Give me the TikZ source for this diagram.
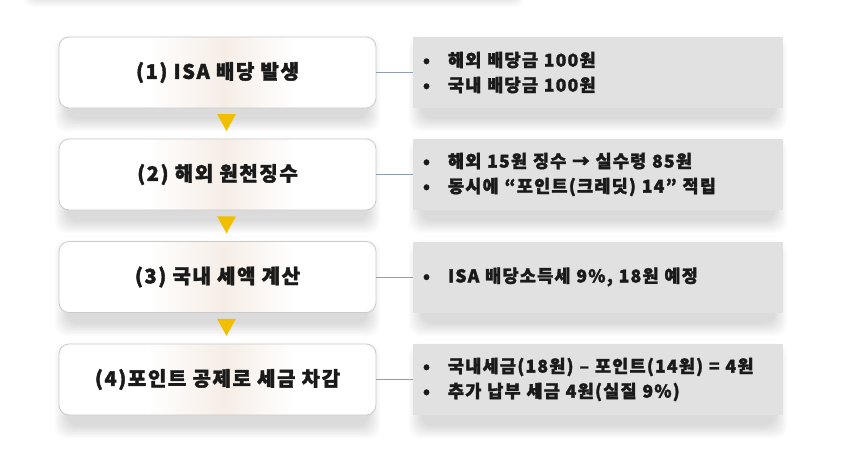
\documentclass[tikz,border=0pt]{standalone}
\usepackage{fontspec}
\setmainfont{Noto Sans CJK KR}[BoldFeatures={FakeBold=1.8}]
\usetikzlibrary{calc}
\pgfdeclarelayer{bgfill}
\pgfdeclarelayer{shadowlayer}
\pgfsetlayers{bgfill,shadowlayer,main}
\definecolor{ink}{HTML}{1A1A1A}
\definecolor{gbox}{HTML}{E1E1E1}
\definecolor{bord}{HTML}{CACACA}
\definecolor{conn}{HTML}{8E9CB4}
\definecolor{tri}{HTML}{F2BF00}
\definecolor{glow}{HTML}{F6EDE6}
\pgfdeclarehorizontalshading{glowshade}{100bp}{color(0bp)=(white); color(39bp)=(white); color(51bp)=(glow); color(62bp)=(white); color(100bp)=(white)}
\tikzset{
  stepbox/.style={draw=bord, line width=0.8pt, rounded corners=10pt,
    minimum width=317pt, minimum height=71pt, shading=glowshade,
    font=\fontsize{20}{23}\addfontfeatures{LetterSpace=8}\bfseries, text=ink},
  infobox/.style={fill=gbox, minimum width=370pt, minimum height=71pt,
    text width=350pt, inner xsep=10pt, align=left,
    font=\fontsize{17.5}{25}\addfontfeatures{LetterSpace=7}\bfseries, text=ink},
  conline/.style={draw=conn, line width=0.8pt},
  tritip/.style={fill=tri},
  shadelayer/.style={fill=black, opacity=0.017, rounded corners=12pt}
}
\newcommand{\bul}{\makebox[25pt][l]{•}}
\newcommand{\softshadow}[1]{%
  \foreach \i in {0,3,...,24}{%
    \fill[shadelayer] ($(#1.north west)+(8-\i/2,11-\i/2)$) rectangle ($(#1.south east)+(\i/2-8,11+\i/2)$);}}
\begin{document}
\begin{tikzpicture}[x=1pt,y=-1pt]
\begin{pgfonlayer}{bgfill}
\fill[white] (0,0) rectangle (853,472);
\end{pgfonlayer}
\useasboundingbox (0,0) rectangle (853,472);
% left steps
\node[stepbox] (L1) at (217.5,72.5) {(1) ISA 배당 발생};
\node[stepbox] (L2) at (217.5,174.5) {(2) 해외 원천징수};
\node[stepbox] (L3) at (217.5,277) {(3) 국내 세액 계산};
\node[stepbox] (L4) at (217.5,379.5) {(4)포인트 공제로 세금 차감};
% right info boxes
\node[infobox] (R1) at (598,72.5) {\bul 해외 배당금 100원\\\bul 국내 배당금 100원};
\node[infobox] (R2) at (598,174.5) {\bul 해외 15원 징수 → 실수령 85원\\\bul 동시에 “포인트(크레딧) 14” 적립};
\node[infobox] (R3) at (598,277) {\bul ISA 배당소득세 9\%, 18원 예정};
\node[infobox] (R4) at (598,379.5) {\bul 국내세금(18원) – 포인트(14원) = 4원\\\bul 추가 납부 세금 4원(실질 9\%)};
% soft shadows behind boxes
\begin{pgfonlayer}{shadowlayer}
\foreach \i in {0,2,...,14}{
  \fill[black, opacity=0.011, rounded corners=10pt] (30-\i/2,-30) rectangle (518+\i/2,\i/2);
}
\foreach \n in {L1,L2,L3,L4,R1,R2,R3,R4}{\softshadow{\n}}
\end{pgfonlayer}
% connectors
\draw[conline] (L1.east) -- (R1.west);
\draw[conline] (L2.east) -- (R2.west);
\draw[conline] (L3.east) -- (R3.west);
\draw[conline] (L4.east) -- (R4.west);
% down triangles
\coordinate (t1) at ($(L1.south)!0.5!(L2.north)+(9,-1)$);
\coordinate (t2) at ($(L2.south)!0.5!(L3.north)+(9,-1)$);
\coordinate (t3) at ($(L3.south)!0.5!(L4.north)+(9,-1)$);
\foreach \t in {t1,t2,t3}{
  \fill[tritip] ($(\t)+(-9.5,-8.5)$) -- ($(\t)+(9.5,-8.5)$) -- ($(\t)+(0,8.5)$) -- cycle;
}
\end{tikzpicture}
\end{document}
